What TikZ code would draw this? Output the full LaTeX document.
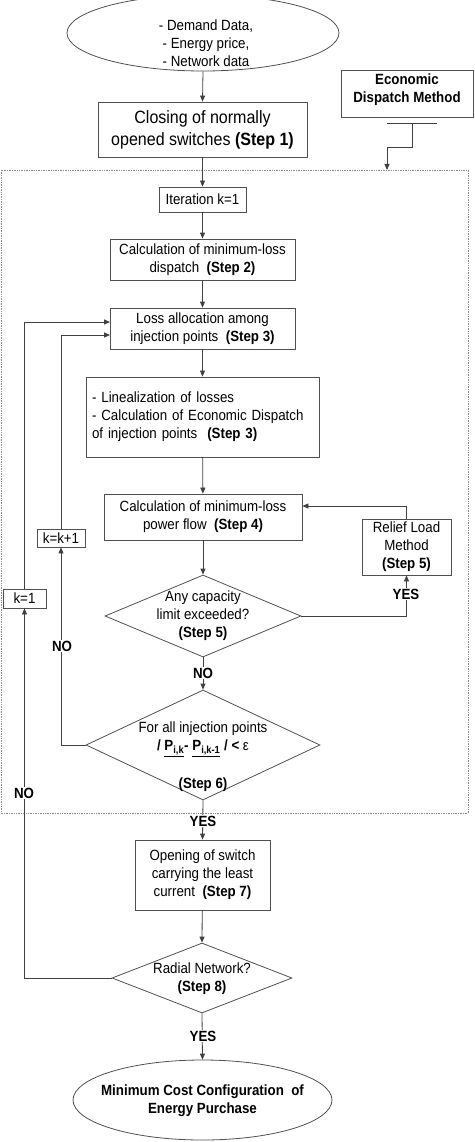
\documentclass[tikz,border=0pt]{standalone}
\usepackage{fontspec}
\setmainfont{Liberation Sans}[FakeStretch=0.9]
\usetikzlibrary{arrows.meta,shapes.geometric}
\definecolor{boxc}{HTML}{505050}
\definecolor{linec}{HTML}{404040}
\definecolor{dotc}{HTML}{8A8A8A}
\begin{document}
\begin{tikzpicture}[x=1pt,y=-1pt,
  every node/.style={font=\fontsize{14.8}{18}\selectfont, inner sep=0pt, text=black},
  box/.style={draw=boxc, line width=0.8pt, align=center},
  dia/.style={draw=boxc, line width=0.8pt, diamond},
  ell/.style={draw=boxc, line width=0.8pt, ellipse},
  txt/.style={align=center},
  lbl/.style={font=\fontsize{14.8}{18}\selectfont\bfseries, fill=white, inner sep=0.6pt},
  conn/.style={draw=linec, line width=0.8pt, -{Triangle[length=6pt,width=5pt]}},
  plain/.style={draw=linec, line width=0.8pt}]
\useasboundingbox (0,0) rectangle (474,1142);

% dotted frame
\draw[dotc, densely dotted, line width=0.7pt] (1,170) rectangle (468,813);

% nodes
\node[ell, minimum width=272pt, minimum height=76pt] (in) at (203,33) {};
\node[txt] (intxt) at (206,43) {- Demand Data,\\- Energy price,\\- Network data};
\node[box, minimum width=209pt, minimum height=55pt, font=\fontsize{17.8}{22}\selectfont] (s1) at (202.5,129.5) {Closing of normally\\opened switches \textbf{(Step 1)}};
\node[box, minimum width=132pt, minimum height=47pt] (ed) at (407,93.5) {};
\node[txt, font=\fontsize{14.8}{18}\selectfont\bfseries] (edt) at (407,89.5) {Economic\\Dispatch Method};
\node[box, minimum width=87pt, minimum height=25pt] (it) at (202.5,199.5) {Iteration k=1};
\node[box, minimum width=185pt, minimum height=41pt] (s2) at (202.5,259.5) {Calculation of minimum-loss\\dispatch~ \textbf{(Step 2)}};
\node[box, minimum width=185pt, minimum height=41pt] (s3) at (202.5,328.5) {Loss allocation among\\injection points~ \textbf{(Step 3)}};
\node[draw=boxc, line width=0.8pt, text width=221pt, inner xsep=6pt, align=left, minimum height=80pt] (s3b) at (202.5,417) {- Linealization of losses\\- Calculation of Economic Dispatch\\of injection points~ \textbf{(Step 3)}};
\node[box, minimum width=198pt, minimum height=46pt] (s4) at (203,517) {Calculation of minimum-loss\\power flow~ \textbf{(Step 4)}};
\node[box, minimum width=89pt, minimum height=56pt] (rl) at (406.5,547) {Relief Load\\Method\\\textbf{(Step 5)}};
\node[box, minimum width=48pt, minimum height=18pt] (kk) at (61,538) {k=k+1};
\node[box, minimum width=43pt, minimum height=19pt] (k1) at (24.5,598.5) {k=1};
\node[dia, minimum width=196pt, minimum height=82pt] (d1) at (203,616) {};
\node[txt] (d1t) at (203,615.5) {Any capacity\\limit exceeded?\\\textbf{(Step 5)}};
\node[dia, minimum width=234pt, minimum height=110pt] (d2) at (203,745) {};
\node[txt] (d2t) at (203,739.5) {For all injection points\\\textbf{/ \underline{P\textsubscript{i,k}}- \underline{P\textsubscript{i,k-1}} / <} ε};
\node[txt, font=\fontsize{14.8}{18}\selectfont\bfseries] (d2s) at (203,785) {(Step 6)};
\node[box, minimum width=135pt, minimum height=70pt] (s7) at (202.5,875) {Opening of switch\\carrying the least\\current~ \textbf{(Step 7)}};
\node[dia, minimum width=180pt, minimum height=70pt] (d3) at (202,978) {};
\node[txt] (d3t) at (202,978.5) {Radial Network?\\\textbf{(Step 8)}};
\node[ell, minimum width=259pt, minimum height=80pt] (out) at (202.5,1100) {};
\node[txt, font=\fontsize{14.8}{18}\selectfont\bfseries] (outt) at (202.5,1101) {Minimum Cost Configuration~ of\\Energy Purchase};

% helper coordinates
\coordinate (e0) at (387,123);
\coordinate (e2) at (437,123);
\coordinate (e1) at (412,123);
\coordinate (e3) at (412,147);
\coordinate (e4) at (387,147);
\coordinate (edin) at (387,170);
\coordinate (r1) at (406,506);
\coordinate (a2) at (110,322);
\coordinate (a3) at (110,335);

% connectors
\draw[conn] (in.south) -- (s1.north);
\draw[conn] (s1) -- (it);
\draw[conn] (it) -- (s2);
\draw[conn] (s2) -- (s3);
\draw[conn] (s3) -- (s3b);
\draw[conn] (s3b) -- (s4);
\draw[conn] (s4) -- (d1.north);
\draw[conn] (d1.south) -- (d2.north);
\draw[conn] (d2.south) -- (s7.north);
\draw[conn] (s7) -- (d3.north);
\draw[conn] (d3.south) -- (out.north);
\draw[conn] (d1.east) -| (rl.south);
\draw[conn] (rl.north) |- (s4.east |- r1);
\draw[conn] (d2.west) -| (kk.south);
\draw[conn] (kk.north) |- (a3);
\draw[conn] (d3.west) -| (k1.south);
\draw[conn] (k1.north) |- (a2);
\draw[plain] (e0) -- (e2);
\draw[conn] (e1) -- (e3) -- (e4) -- (edin);

% labels
\node[lbl] (no1) at (203,673) {NO};
\node[lbl] (yes1) at (203,821) {YES};
\node[lbl] (yes2) at (203,1036) {YES};
\node[lbl] (yes3) at (406,594) {YES};
\node[lbl] (no2) at (62,646) {NO};
\node[lbl] (no3) at (24,793) {NO};
\end{tikzpicture}
\end{document}
